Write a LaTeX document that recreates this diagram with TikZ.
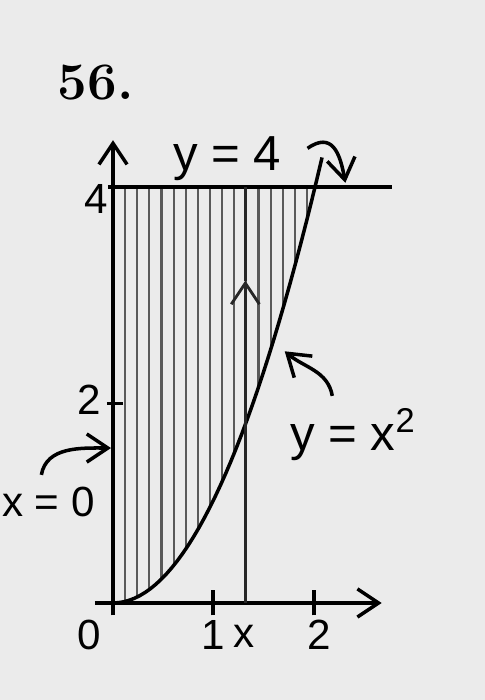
\documentclass[tikz,border=0pt]{standalone}
\usepackage{fontspec}
\newfontfamily\hand{Liberation Sans}
\usetikzlibrary{arrows.meta, positioning}

\begin{document}
\begin{tikzpicture}[x=1.01cm, y=1.04cm, line width=1pt, >={Straight Barb[length=6pt,width=8pt]},
    lbl/.style={font=\hand\fontsize{14}{16}\selectfont, inner sep=1pt},
    ticklbl/.style={font=\hand\fontsize{12}{14}\selectfont, inner sep=1pt},
    hatch/.style={line width=0.6pt, black!65}]

    \fill[black!8] (-1.119,-0.933) rectangle (3.683,5.798);
    \useasboundingbox (-1.119,-0.933) rectangle (3.683,5.798);

    \node [font=\bfseries\fontsize{15}{18}\selectfont] (num) at (-0.17,5.0) {56.};

    % shading strips
    \foreach \s in {0.12,0.24,...,1.95}
        \draw[hatch] (\s,{\s*\s}) -- (\s,4);

    % axes
    \coordinate (xs) at (-0.18,0);
    \coordinate (xe) at (2.66,0);
    \coordinate (ys) at (0,-0.12);
    \coordinate (ye) at (0,4.45);
    \draw[->] (xs) -- (xe);
    \draw[->] (ys) -- (ye);

    % y = 4 and the curve
    \coordinate (l4) at (-0.05,4);
    \coordinate (r4) at (2.76,4);
    \draw (l4) -- (r4);
    \draw plot[domain=0:2.07, samples=40] (\x,{\x*\x});

    % strip at x
    \coordinate (vb) at (1.31,0);
    \coordinate (vm) at (1.31,3.1);
    \coordinate (vt) at (1.31,4);
    \draw[->, line width=0.8pt, black!85] (vb) -- (vm);
    \draw[line width=0.8pt, black!85] (vm) -- (vt);

    % ticks
    \coordinate (t2a) at (-0.06,1.92);
    \coordinate (t2b) at (0.1,1.92);
    \draw (t2a) -- (t2b);
    \foreach \t in {1,2}
        \draw (\t-0.01,-0.12) -- (\t-0.01,0.12);

    \node [ticklbl] (n4) at (-0.17,3.88) {4};
    \node [ticklbl] (n2) at (-0.24,1.95) {2};
    \node [ticklbl] (n0) at (-0.24,-0.31) {0};
    \node [ticklbl] (n1) at (0.99,-0.31) {1};
    \node [ticklbl] (nx) at (1.3,-0.32) {x};
    \node [ticklbl] (nn2) at (2.04,-0.31) {2};

    % labels
    \node [lbl] (y4) at (1.13,4.27) {y = 4};
    \node [lbl] (yx2) at (2.38,1.62) {y = x\textsuperscript{2}};
    \node [lbl, font=\hand\fontsize{12}{14}\selectfont] (x0) at (-0.64,0.97) {x = 0};

    \coordinate (a4) at (2.30,4.04);
    \coordinate (acurve) at (1.70,2.42);
    \coordinate (aaxis) at (-0.02,1.49);

    \path[->]
        ([xshift=6pt,yshift=3pt]y4.east) edge[out=35, in=100, looseness=1.5] (a4)
        ([xshift=-6pt,yshift=2pt]yx2.north) edge[out=100, in=-40] (acurve)
        ([xshift=-2pt,yshift=2pt]x0.north) edge[out=80, in=180] (aaxis);
\end{tikzpicture}
\end{document}
